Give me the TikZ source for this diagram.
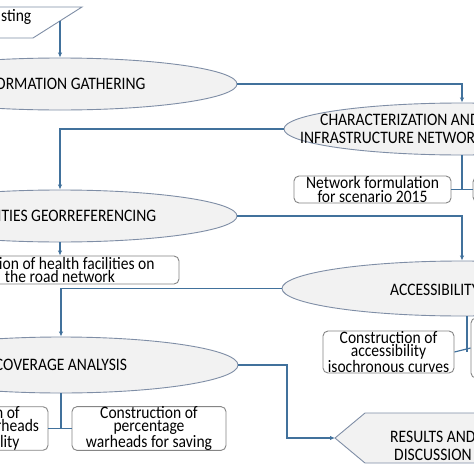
\documentclass[tikz,border=0pt]{standalone}
\usepackage{fontspec}
\setmainfont{Carlito}[FakeStretch=0.89]
\usetikzlibrary{shapes.geometric,arrows.meta}
\definecolor{ln}{HTML}{41719C}
\definecolor{ef}{HTML}{F2F2F2}
\definecolor{ed}{HTML}{7F8EA6}
\definecolor{bd}{HTML}{858585}
\newcommand\myfs{\fontsize{17.5pt}{12.5pt}\selectfont}
\newcommand\myfsb{\fontsize{17.5pt}{13.5pt}\selectfont}
\begin{document}
\begin{tikzpicture}[x=1pt,y=-1pt,
 ell/.style={ellipse,draw=ed,fill=ef,line width=0.9pt,inner sep=0pt,font=\myfs},
 box/.style={rectangle,rounded corners=5pt,draw=bd,fill=white,line width=0.9pt,align=center,inner sep=0pt,font=\myfs},
 conn/.style={draw=ln,line width=1.2pt},
 arr/.style={conn,-{Latex[length=5pt,width=4.5pt]}},
 lbl/.style={inner sep=0pt,anchor=base west,font=\myfs}]
\useasboundingbox (0,0) rectangle (474,474);
\clip (0,0) rectangle (474,474);
\fill[white] (0,0) rectangle (474,474);
% input parallelogram
\draw[draw=ed,fill=white,line width=0.9pt] (-80,7) -- (82,7) -- (33,38) -- (-129,38) -- cycle;
\coordinate (p) at (60,21);
\node[lbl] (t0) at (1,21.5) {sting};
% ellipses
\node[ell,minimum width=354pt,minimum height=52pt] (e1) at (60,84) {INFORMATION GATHERING};
\node[ell,minimum width=356pt,minimum height=52pt] (e2) at (462,129) {};
\node[lbl] (t2a) at (320,125) {CHARACTERIZATION AND};
\node[lbl] (t2b) at (300,143) {INFRASTRUCTURE NETWORK};
\node[ell,minimum width=354pt,minimum height=52pt] (e3) at (60,216) {FACILITIES GEORREFERENCING};
\node[ell,minimum width=360pt,minimum height=55pt] (e5) at (462,288.5) {};
\node[lbl] (t5) at (390,295) {ACCESSIBILITY};
\node[ell,minimum width=354pt,minimum height=56pt] (e4) at (61,365) {COVERAGE ANALYSIS};
% boxes
\node[box,minimum width=238pt,minimum height=28pt] (b1) at (60,270) {Location of health facilities on\\the road network};
\node[box,font=\myfsb,minimum width=157pt,minimum height=27pt] (b2) at (372.5,189.5) {Network formulation\\for scenario 2015};
\node[box,minimum width=100pt,minimum height=25pt] (b2r) at (523,189.5) {};
\node[box,minimum width=131pt,minimum height=42pt] (b3) at (388.5,352) {Construction of\\accessibility\\isochronous curves};
\node[box,minimum width=100pt,minimum height=60pt] (b3r) at (521,348) {};
\node[box,minimum width=154pt,minimum height=43pt] (b4l) at (-29,428.5) {Construction of\\percentage warheads\\for accessibility};
\node[box,minimum width=154pt,minimum height=43pt] (b4r) at (149,428.5) {Construction of\\percentage\\warheads for saving};
% results shape
\draw[draw=ed,fill=ef,line width=0.9pt] (335,438) -- (365,413) -- (560,413) -- (560,463) -- (365,463) -- cycle;
\coordinate (res) at (335,438);
\node[lbl] (t6a) at (390,442) {RESULTS AND};
\node[lbl] (t6b) at (394,460) {DISCUSSION};
% connectors
\draw[arr] (p) -- (e1.north);
\draw[arr] (e1.east) -| (e2.north);
\draw[arr] (e2.west) -| (e3.north);
\draw[arr] (e3.south) -- (b1.north);
\draw[arr] (e3.east) -| (e5.north);
\draw[arr] (e5.west) -| (e4.north);
\coordinate (k) at (287,438);
\draw[arr] (e4.east) -| (k) -- (res);
\draw[conn] (e2.south) -- (e2.south |- b2.east);
\draw[conn] (b2.east) -- (b2r.west);
\draw[conn] ([xshift=5pt]e5.south) -- ([xshift=5pt]e5.south |- b3.east);
\draw[conn] (b3.east) -- (b3r.west);
\draw[conn] (e4.south) -- (e4.south |- b4r.west);
\draw[conn] (b4l.east) -- (b4r.west);
\end{tikzpicture}
\end{document}
